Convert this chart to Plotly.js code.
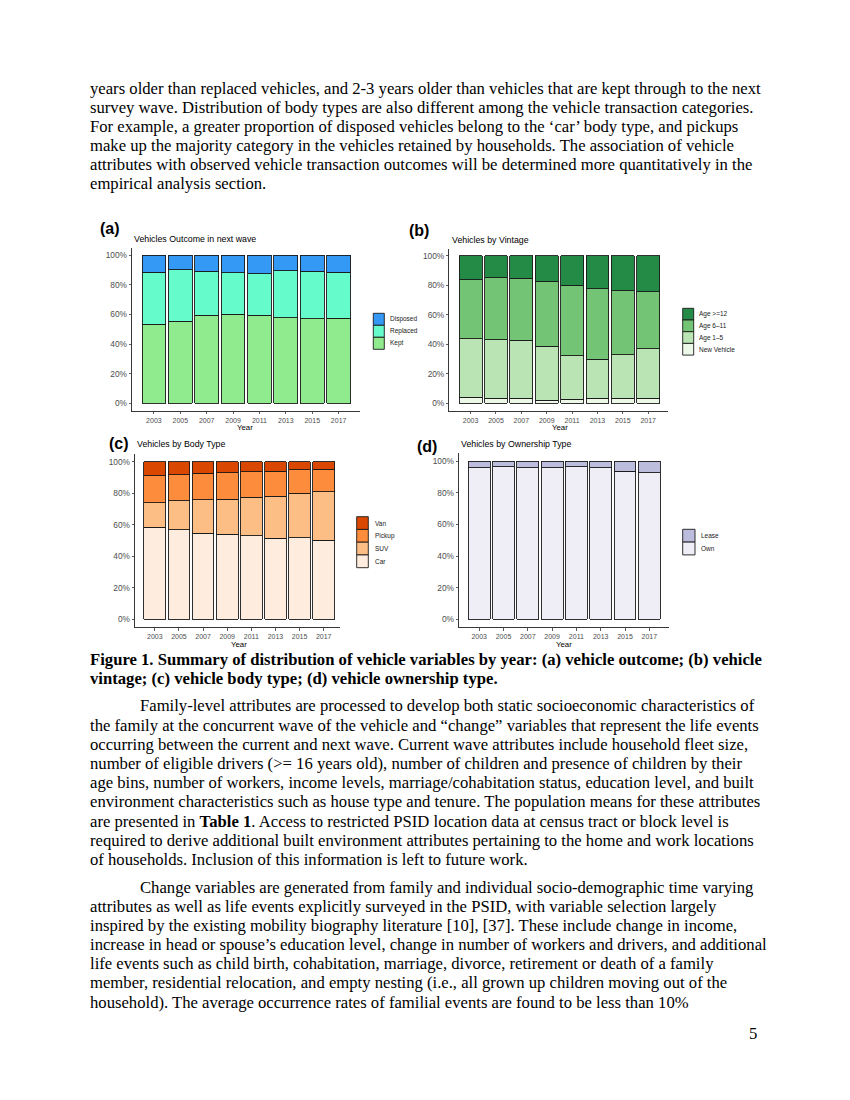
<!DOCTYPE html>
<html><head><meta charset="utf-8">
<script src="https://cdn.plot.ly/plotly-3.0.1.min.js"></script>
<style>
html,body{margin:0;padding:0;background:#fff;}
#page{position:relative;width:850px;height:1100px;overflow:hidden;background:#fff;}
#chart{position:absolute;left:0;top:0;width:850px;height:1100px;}
.ln{position:absolute;left:90px;white-space:nowrap;font-family:"Liberation Serif","Times New Roman",serif;font-size:16.67px;line-height:19.17px;color:#000;}
.ind{left:140px;}
.cap{font-weight:bold;}
</style></head><body>
<div id="page"><div id="chart"></div><div id="text"></div></div>
<script>
// ---------- data ----------
const years = ['2003','2005','2007','2009','2011','2013','2015','2017'];

const outcomeKept     = [53.5,55.4,59.4,60.0,59.3,57.9,57.1,57.4];
const outcomeReplaced = [35.0,34.9,29.6,28.1,28.1,31.5,31.9,31.1];
const outcomeDisposed = [11.5, 9.7,11.0,11.9,12.6,10.6,11.0,11.5];

const vintageNew   = [ 4.1, 3.4, 3.4, 2.0, 2.7, 3.4, 3.4, 3.4];
const vintage1to5  = [39.8,39.6,39.4,36.9,29.7,26.5,29.6,33.7];
const vintage6to11 = [40.0,42.3,42.0,44.1,47.9,47.9,43.5,38.7];
const vintage12up  = [16.1,14.7,15.2,17.0,19.7,22.2,23.5,24.2];

const bodyCar    = [58.4,56.7,54.5,53.9,53.1,51.4,51.8,50.1];
const bodySUV    = [15.6,18.6,21.4,22.2,24.3,26.6,28.3,30.7];
const bodyPickup = [17.1,16.5,16.7,16.9,16.3,15.9,14.9,14.3];
const bodyVan    = [ 8.9, 8.2, 7.4, 7.0, 6.3, 6.1, 5.0, 4.9];

const ownOwn   = [95.8,96.4,95.8,96.0,96.6,95.8,93.7,92.8];
const ownLease = [ 4.2, 3.6, 4.2, 4.0, 3.4, 4.2, 6.3, 7.2];

const yTickVals = [0,20,40,60,80,100];
const yTickText = ['0%','20%','40%','60%','80%','100%'];

// ---------- page text ----------
const para1 = [
 "years older than replaced vehicles, and 2-3 years older than vehicles that are kept through to the next",
 "survey wave. Distribution of body types are also different among the vehicle transaction categories.",
 "For example, a greater proportion of disposed vehicles belong to the \u2018car\u2019 body type, and pickups",
 "make up the majority category in the vehicles retained by households. The association of vehicle",
 "attributes with observed vehicle transaction outcomes will be determined more quantitatively in the",
 "empirical analysis section."
];
const caption = [
 "Figure 1. Summary of distribution of vehicle variables by year: (a) vehicle outcome; (b) vehicle",
 "vintage; (c) vehicle body type; (d) vehicle ownership type."
];
const para2 = [
 "Family-level attributes are processed to develop both static socioeconomic characteristics of",
 "the family at the concurrent wave of the vehicle and \u201cchange\u201d variables that represent the life events",
 "occurring between the current and next wave. Current wave attributes include household fleet size,",
 "number of eligible drivers (&gt;= 16 years old), number of children and presence of children by their",
 "age bins, number of workers, income levels, marriage/cohabitation status, education level, and built",
 "environment characteristics such as house type and tenure. The population means for these attributes",
 "are presented in <b>Table 1</b>. Access to restricted PSID location data at census tract or block level is",
 "required to derive additional built environment attributes pertaining to the home and work locations",
 "of households. Inclusion of this information is left to future work."
];
const para3 = [
 "Change variables are generated from family and individual socio-demographic time varying",
 "attributes as well as life events explicitly surveyed in the PSID, with variable selection largely",
 "inspired by the existing mobility biography literature [10], [37]. These include change in income,",
 "increase in head or spouse\u2019s education level, change in number of workers and drivers, and additional",
 "life events such as child birth, cohabitation, marriage, divorce, retirement or death of a family",
 "member, residential relocation, and empty nesting (i.e., all grown up children moving out of the",
 "household). The average occurrence rates of familial events are found to be less than 10%"
];

(function(){
  const box = document.getElementById('text');
  function put(lines, firstCenter, step, cls, indentFirst){
    lines.forEach((t,i)=>{
      const d = document.createElement('div');
      d.className = 'ln' + (cls ? ' '+cls : '') + (indentFirst && i===0 ? ' ind' : '');
      d.style.top = (firstCenter + i*step - 11.4) + 'px';
      d.innerHTML = t;
      box.appendChild(d);
    });
  }
  put(para1, 90, 19.15, '', false);
  put(caption, 661, 19.4, 'cap', false);
  put(para2, 707.7, 19.2, '', true);
  put(para3, 889.3, 19.1, '', true);
  const pn = document.createElement('div');
  pn.className = 'ln';
  pn.style.left = '749px';
  pn.style.top = (1035 - 11.4) + 'px';
  pn.textContent = '5';
  box.appendChild(pn);
})();

// ---------- chart ----------
const W = 850, H = 1100;
const PX = p => p / W;
const PY = p => 1 - p / H;
const FONT = 'Liberation Sans, Arial, sans-serif';
const EDGE = '#1a1a1a';

const panels = [
  {ax:'', label:'(a)', title:'Vehicles Outcome in next wave',
   series:[['Kept',outcomeKept,'#90EA8E'],['Replaced',outcomeReplaced,'#66FBCB'],['Disposed',outcomeDisposed,'#3399F5']],
   xpx:[132,360], xr:[-0.83,7.81], ypx:[410.7,247.8],
   labelPos:[98,228], titlePos:[131.7,239], yearPos:[245,427.5],
   leg:{x:373.3,y:313.3,w:11,h:12,tx:388}},
  {ax:'2', label:'(b)', title:'Vehicles by Vintage',
   series:[['New Vehicle',vintageNew,'#EDF8E9'],['Age 1\u20135',vintage1to5,'#BAE4B3'],['Age 6\u201311',vintage6to11,'#74C476'],['Age >=12',vintage12up,'#238B45']],
   xpx:[449.3,668], xr:[-0.84,7.78], ypx:[410.7,248.6],
   labelPos:[406.7,230.5], titlePos:[450,240], yearPos:[559.7,427.5],
   leg:{x:682.7,y:308.3,w:11,h:11.7,tx:696.7}},
  {ax:'3', label:'(c)', title:'Vehicles by Body Type',
   series:[['Car',bodyCar,'#FEEDDE'],['SUV',bodySUV,'#FDBE85'],['Pickup',bodyPickup,'#FD8D3C'],['Van',bodyVan,'#D94701']],
   xpx:[135,340], xr:[-0.82,7.675], ypx:[627.2,453.8],
   labelPos:[107.3,444], titlePos:[135,444.3], yearPos:[239,644.5],
   leg:{x:356.7,y:516.7,w:11.6,h:12.75,tx:372.7}},
  {ax:'4', label:'(d)', title:'Vehicles by Ownership Type',
   series:[['Own',ownOwn,'#EFEDF5'],['Lease',ownLease,'#BCBDDC']],
   xpx:[459,669], xr:[-0.83,7.81], ypx:[627.2,453.4],
   labelPos:[415,446], titlePos:[459.3,444.3], yearPos:[564.3,644.5],
   leg:{x:682.7,y:529.3,w:12.3,h:12.8,tx:699}}
];

const traces = [];
const shapes = [];
const annotations = [];
const layout = {
  width: W, height: H,
  margin: {l:0,r:0,t:0,b:0},
  paper_bgcolor: 'rgba(0,0,0,0)',
  plot_bgcolor: 'rgba(0,0,0,0)',
  barmode: 'stack',
  showlegend: false,
  font: {family: FONT, color: '#000'},
  hovermode: false
};

panels.forEach(p => {
  const xa = 'x' + p.ax, ya = 'y' + p.ax;
  p.series.forEach(s => {
    traces.push({
      type:'bar', name:s[0], x:years, y:s[1], xaxis:xa, yaxis:ya,
      width:0.9,
      marker:{color:s[2], line:{color:EDGE, width:0.9}},
      hoverinfo:'skip'
    });
  });
  layout['xaxis' + p.ax] = {
    type:'category', domain:[PX(p.xpx[0]), PX(p.xpx[1])], range:p.xr,
    anchor:ya, showline:true, linecolor:'#222', linewidth:0.9,
    ticks:'outside', ticklen:2.5, tickwidth:0.8, tickcolor:'#333',
    tickfont:{family:FONT, size:7, color:'#4d4d4d'},
    showgrid:false, zeroline:false, fixedrange:true
  };
  layout['yaxis' + p.ax] = {
    domain:[PY(p.ypx[0]), PY(p.ypx[1])], range:[-5,105],
    anchor:xa, showline:true, linecolor:'#222', linewidth:0.9,
    tickmode:'array', tickvals:yTickVals, ticktext:yTickText,
    ticks:'outside', ticklen:2.5, tickwidth:0.8, tickcolor:'#333',
    tickfont:{family:FONT, size:8.3, color:'#4d4d4d'},
    showgrid:false, zeroline:false, fixedrange:true
  };
  annotations.push({xref:'paper', yref:'paper', x:PX(p.labelPos[0]), y:PY(p.labelPos[1]),
    xanchor:'left', yanchor:'middle', showarrow:false, text:'<b>'+p.label+'</b>',
    font:{family:FONT, size:16, color:'#000'}});
  annotations.push({xref:'paper', yref:'paper', x:PX(p.titlePos[0]), y:PY(p.titlePos[1]),
    xanchor:'left', yanchor:'middle', showarrow:false, text:p.title,
    font:{family:FONT, size:8.8, color:'#000'}});
  annotations.push({xref:'paper', yref:'paper', x:PX(p.yearPos[0]), y:PY(p.yearPos[1]),
    xanchor:'center', yanchor:'middle', showarrow:false, text:'Year',
    font:{family:FONT, size:7.8, color:'#000'}});
  // legend (top of stack listed first)
  const rev = p.series.slice().reverse();
  rev.forEach((s,i) => {
    const y0 = p.leg.y + i*p.leg.h, y1 = y0 + p.leg.h;
    shapes.push({type:'rect', xref:'paper', yref:'paper',
      x0:PX(p.leg.x), x1:PX(p.leg.x + p.leg.w), y0:PY(y1), y1:PY(y0),
      fillcolor:s[2], line:{color:EDGE, width:0.9}});
    annotations.push({xref:'paper', yref:'paper', x:PX(p.leg.tx), y:PY((y0+y1)/2),
      xanchor:'left', yanchor:'middle', showarrow:false, text:s[0],
      font:{family:FONT, size:6.5, color:'#1a1a1a'}});
  });
});

layout.shapes = shapes;
layout.annotations = annotations;

Plotly.newPlot('chart', traces, layout, {staticPlot:true, displayModeBar:false});
</script>
</body></html>
